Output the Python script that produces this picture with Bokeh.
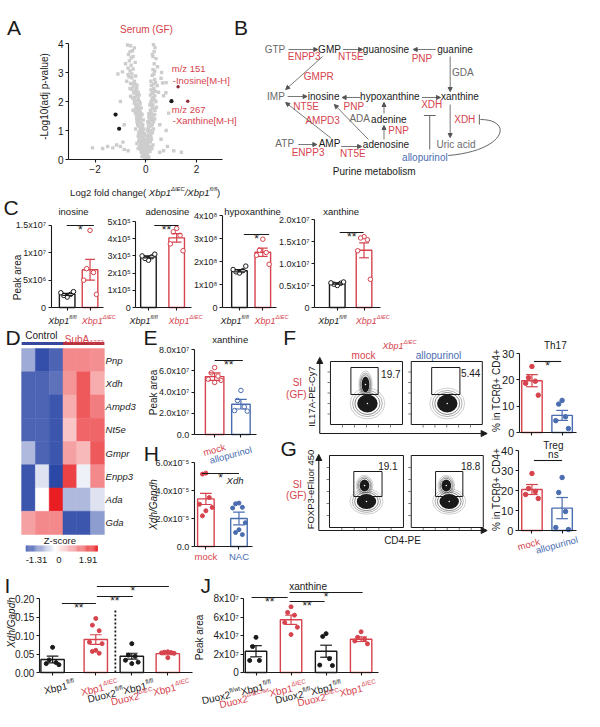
import math
from bokeh.plotting import figure
from bokeh.models import (Range1d, Label, Arrow, NormalHead, FixedTicker, LinearAxis,
                          ColumnDataSource)
from bokeh.embed import file_html
from bokeh.resources import INLINE
from bokeh.transform import linear_cmap

# ======================= DATA =======================
# A  volcano (serum, GF): log2 fold change and -log10(adj p)
VOLC_X = [-0.72, -0.60, -0.52, -0.68, -0.45, -0.58, 0.30, 0.36, 0.26, 0.40, 0.33,
          -0.80, -0.65, -0.50, -0.58, -0.42, -0.92, -0.70, 0.33, 0.28, 0.46, 0.62,
          -0.70, -0.55, -0.45, -0.60, -0.35, -0.50, -0.75, -1.10, -0.40, -0.62,
          0.25, 0.35, 0.30, 0.45, 0.60, 0.20, 0.80,
          -0.55, -0.40, -0.48, -0.35, -0.60, -0.30, -0.45, -0.25, -0.38, -0.52,
          0.20, 0.28, 0.35, 0.25, 0.50, 0.40, 0.70, 0.18, 0.32,
          -0.45, -0.35, -0.28, -0.40, -0.30, -0.20, -0.38, -0.25, -0.50, -0.33,
          0.20, 0.25, 0.18, 0.30, 0.22, 0.35, 0.15, 0.28, 0.42,
          -0.30, -0.22, -0.35, -0.18, -0.27, -0.15, -0.40, -0.20, -0.28, -0.12,
          0.12, 0.20, 0.15, 0.25, 0.10, 0.30, 0.18, 0.08, 0.35,
          -0.25, -0.15, -0.30, -0.10, -0.20, -0.08, -0.35, -0.15, -0.22, -0.05,
          0.10, 0.18, 0.08, 0.22, 0.12, 0.05, 0.28, 0.15,
          -0.10, 0.05, -0.05, 0.08, -0.12, 0.00, 0.10, -0.05, 0.02, -0.20, 0.15, -0.15, 0.12, -0.08, 0.05, -0.02,
          -2.10, -1.70, -1.50, -1.30, -1.15, -1.00, -0.85, -0.70, 0.55, 0.70, 0.85, 1.10, 1.40,
          -0.90, 0.80, 0.90, -1.00, 0.55, 0.66, 0.79, -0.85, 0.60,
          -0.42, -0.36, -0.30, -0.44, -0.26, -0.33, -0.22, -0.40, -0.18, -0.34, -0.24, -0.42, -0.15, -0.31,
          -0.20, -0.36, -0.10, -0.24, -0.14, -0.32, -0.08, -0.22, -0.12, -0.28, -0.06, -0.18, -0.25, -0.04,
          -0.12, -0.28, -0.02, -0.20, -0.10, -0.25, -0.06, -0.16, -0.30, -0.08, -0.18, -0.03, -0.10,
          0.22, 0.30, 0.24, 0.38, 0.30, 0.22, 0.34, 0.16, 0.26, 0.36, 0.20, 0.28, 0.12, 0.24, 0.16, 0.30,
          0.10, 0.20, 0.06, 0.14, 0.26, 0.05, 0.20, 0.12, 0.03, 0.18, 0.08, 0.20, 0.02, 0.12, 0.24, 0.06,
          0.16, 0.03, 0.07, -0.01,
          -0.62, -0.55, -0.48, -0.66, 0.35, 0.28, 0.32, -0.62, -0.50, 0.38]
VOLC_Y = [3.95, 3.92, 3.75, 3.62, 3.85, 3.50, 3.96, 3.86, 3.62, 3.48, 3.72,
          3.30, 3.40, 3.12, 3.25, 3.35, 3.02, 3.15, 3.30, 3.10, 3.20, 3.00,
          2.92, 2.82, 2.70, 2.62, 2.56, 2.50, 2.70, 2.95, 2.88, 2.45,
          2.90, 2.76, 2.60, 2.55, 2.80, 2.70, 2.65,
          2.42, 2.38, 2.30, 2.20, 2.18, 2.10, 2.05, 2.00, 2.28, 2.12,
          2.40, 2.30, 2.20, 2.10, 2.32, 2.00, 2.20, 2.22, 2.45,
          1.95, 1.90, 1.80, 1.75, 1.65, 1.60, 1.55, 1.50, 1.70, 1.85,
          1.95, 1.85, 1.70, 1.75, 1.60, 1.55, 1.50, 1.90, 1.80,
          1.45, 1.40, 1.30, 1.25, 1.15, 1.10, 1.05, 1.00, 1.35, 1.20,
          1.45, 1.35, 1.25, 1.20, 1.10, 1.05, 1.00, 1.30, 1.40,
          0.95, 0.90, 0.80, 0.75, 0.65, 0.60, 0.55, 0.50, 0.85, 0.85,
          0.95, 0.85, 0.75, 0.70, 0.60, 0.55, 0.50, 0.80,
          0.45, 0.40, 0.30, 0.25, 0.20, 0.15, 0.10, 0.05, 0.02, 0.35, 0.35, 0.10, 0.05, 0.12, 0.20, 0.38,
          0.40, 0.38, 0.45, 0.40, 0.50, 0.45, 0.35, 0.30, 0.25, 0.30, 0.45, 0.30, 0.25,
          0.60, 1.00, 1.60, 2.00, 1.20, 2.64, 2.30, 1.20, 0.70,
          2.60, 2.45, 2.32, 2.15, 2.22, 2.02, 1.92, 1.88, 1.78, 1.72, 1.68, 1.62, 1.55, 1.58,
          1.44, 1.42, 1.36, 1.30, 1.18, 1.20, 1.05, 1.08, 0.98, 0.92, 0.90, 0.78, 0.72, 0.70,
          0.68, 0.62, 0.58, 0.55, 0.52, 0.45, 0.42, 0.40, 0.38, 0.30, 0.25, 0.22, 0.18,
          2.55, 2.42, 2.28, 2.35, 2.15, 2.02, 2.05, 1.88, 1.78, 1.70, 1.62, 1.52, 1.58, 1.42, 1.38, 1.30,
          1.22, 1.15, 1.02, 0.98, 0.92, 0.82, 0.78, 0.70, 0.65, 0.62, 0.50, 0.45, 0.48, 0.42, 0.38, 0.32,
          0.28, 0.12, 0.08, 0.08,
          3.05, 2.95, 2.62, 2.85, 3.05, 3.55, 2.95, 3.72, 3.55, 2.65]
HIT_X = [-1.19, -1.05, 1.01]
HIT_Y = [1.55, 1.06, 2.01]
MZ_X = [1.27, 1.65]          # m/z 151 inosine, m/z 267 xanthine
MZ_Y = [2.51, 2.01]
MZ_TEXT = ["m/z 151", "-Inosine[M-H]", "m/z 267", "-Xanthine[M-H]"]

# C  peak areas (inosine x1e6, adenosine x1e5, hypoxanthine x1e8, xanthine x1e6)
C_METABOLITES = ["inosine", "adenosine", "hypoxanthine", "xanthine"]
C_MEAN_FL = [2.4, 2.95, 1.6, 5.45]
C_MEAN_KO = [6.9, 4.05, 2.4, 13.0]
C_SEM_FL = [0.2, 0.06, 0.05, 0.15]
C_SEM_KO = [1.9, 0.25, 0.18, 1.7]
C_PTS_FL = [[1.9, 2.2, 2.4, 2.7, 2.9], [2.75, 2.85, 2.95, 3.0, 3.1],
            [1.5, 1.55, 1.6, 1.65, 1.8], [5.0, 5.3, 5.5, 5.6, 5.8]]
C_PTS_KO = [[14.1, 7.1, 6.4, 5.0, 2.4], [4.6, 4.4, 4.2, 3.7, 3.3],
            [2.97, 2.49, 2.39, 2.27, 1.88], [16.1, 15.8, 15.4, 12.9, 6.4]]
C_YTICKS = [[0, 5, 10, 15], [0, 1, 2, 3, 4, 5], [0, 1, 2, 3, 4], [0, 5, 10, 15, 20]]
C_YTICKLABELS = [["0", "5x10⁶", "1x10⁷", "1.5x10⁷"],
                 ["0", "1x10⁵", "2x10⁵", "3x10⁵", "4x10⁵", "5x10⁵"],
                 ["0", "1x10⁸", "2x10⁸", "3x10⁸", "4x10⁸"],
                 ["0", "0.5x10⁷", "1.0x10⁷", "1.5x10⁷", "2.0x10⁷"]]
C_SIG = ["*", "**", "*", "**"]

# D  heatmap z-scores
HM_GENES = ["Pnp", "Xdh", "Ampd3", "Nt5e", "Gmpr", "Enpp3", "Ada", "Gda"]
HM_Z = [[-0.6, -1.25, -1.1, 1.0, 1.0, 0.95],
        [-1.1, -1.1, -1.0, 0.9, 1.4, 0.7],
        [-1.1, -1.1, -1.2, 0.7, 1.4, 1.1],
        [-1.1, -1.1, -1.2, 0.5, 1.3, 1.3],
        [-0.5, -1.1, -1.2, 0.8, 0.6, 1.4],
        [-1.2, -0.2, -1.3, 1.6, -0.1, 1.0],
        [-1.2, 0.0, 1.91, -0.5, -0.5, -0.2],
        [0.8, 1.0, 1.0, -1.2, -1.2, -0.7]]
HM_LOW, HM_HIGH = -1.31, 1.91
HM_TICKS = ["-1.31", "0", "1.91"]

# E  xanthine peak area (x1e6): mock, allopurinol
E_MEAN = [54.5, 28.5]
E_SEM = [3.5, 4.5]
E_PTS = [[63, 58, 55, 52, 51, 49], [41.5, 32, 26, 22.5, 22]]
# H  Xdh/Gapdh (x1e-6): mock, NAC
H_MEAN = [34, 20]
H_SEM = [4, 4.5]
H_PTS = [[52.4, 51.7, 35, 30.2, 27.9, 25.5, 21.9], [31, 30.5, 28, 27.5, 17, 12, 10, 8.5]]
# F  Th17 % in TCRb+ CD4+ ; G Treg %
F_GATES = ["19.7", "5.44"]
G_GATES = ["19.1", "18.8"]
TH17_MEAN = [19.7, 6.5]
TH17_SEM = [2.3, 1.9]
TH17_PTS = [[25.1, 20.8, 19.5, 18.7, 14.2], [12.2, 10.8, 6.0, 4.5, 1.5]]
TREG_MEAN = [20.5, 11.2]
TREG_SEM = [2.5, 5.3]
TREG_PTS = [[28.5, 21.0, 19.5, 18.0, 16.0], [26.5, 19.0, 9.5, 1.5, 0.5]]
# I  Xdh/Gapdh (x1e-2)
I_MEAN = [3.5, 8.9, 4.4, 5.1]
I_SEM = [0.9, 1.3, 0.8, 0.3]
I_PTS = [[6.8, 3.4, 2.7, 2.4, 2.1], [14.6, 12.8, 11.3, 8.2, 7.8, 6.0, 5.7, 5.2],
         [7.8, 4.7, 4.4, 3.3, 2.8, 2.4], [5.6, 5.5, 5.4, 5.3, 5.2, 4.0]]
# J  xanthine peak area (x1e6)
J_MEAN = [23, 57, 23, 36]
J_SEM = [6, 5, 6.5, 2.5]
J_PTS = [[38, 28, 13, 13], [71, 65, 62, 54, 49, 41], [42, 39, 15, 8, 7.5], [44, 38, 36, 34, 31]]

# ======================= STYLE / HELPERS =======================
FONT = "Liberation Sans"
RED = "#d6434d"
BLUE = "#4a6db0"
BLACK = "#1a1a1a"
GRAY = "#6a6a6a"

CW = dict(zip("abcdefghijklmnopqrstuvwxyz",
              [556, 556, 500, 556, 556, 278, 556, 556, 222, 222, 500, 222, 833, 556, 556, 556,
               556, 333, 500, 278, 556, 500, 722, 500, 500, 500]))
CW.update(zip("ABCDEFGHIJKLMNOPQRSTUVWXYZ",
              [667, 667, 722, 722, 667, 611, 778, 722, 278, 500, 667, 556, 833, 722, 778, 667,
               778, 722, 667, 611, 722, 667, 944, 667, 667, 611]))
CW.update({" ": 278, "/": 278, ".": 278, "-": 333, "Δ": 668, "(": 333, ")": 333, "+": 584,
           "[": 278, "]": 278, ":": 278, "*": 389})


def tw(s, size):
    return sum(CW.get(ch, 556) for ch in s) * size / 1000.0


# one canvas: frame = whole page area, reference coordinates x 0..600, y 8..719
FIG = figure(width=584, height=711, x_range=Range1d(0, 600), y_range=Range1d(719, 8),
             x_axis_type=None, y_axis_type=None, output_backend="svg", toolbar_location=None,
             min_border=0, min_border_left=0, min_border_right=0, min_border_top=0,
             min_border_bottom=0, title=None)
FIG.outline_line_color = None
FIG.background_fill_color = "white"
FIG.border_fill_color = "white"
XR, YR = {}, {}


class Panel:
    count = 0

    def __init__(self, xo=0.0, xu=1.0, yo=0.0, yu=-1.0):
        Panel.count += 1
        self.n = "p%d" % Panel.count
        self.xo, self.xu, self.yo, self.yu = xo, xu, yo, yu
        XR[self.n] = Range1d(self.X(0), self.X(600))
        YR[self.n] = Range1d(self.Y(719), self.Y(8))
        self.kw = dict(x_range_name=self.n, y_range_name=self.n)

    def X(self, rx):
        return (rx - self.xo) / self.xu

    def Y(self, ry):
        return (self.yo - ry) / self.yu

    def R(self, x):
        return self.xo + x * self.xu

    def text(self, rx, ry, s, size=10, color=BLACK, align="center", baseline="middle",
             angle=0.0, italic=False):
        FIG.add_layout(Label(x=self.X(rx), y=self.Y(ry), text=s, text_font=FONT,
                             text_font_size="%.1fpx" % size, text_color=color,
                             text_align=align, text_baseline=baseline,
                             angle=math.radians(angle),
                             text_font_style="italic" if italic else "normal", **self.kw))

    def rich(self, rx, ry, runs, size=9, angle=0.0, align="center"):
        th = math.radians(angle)
        ux, uy = math.cos(th), math.sin(th)
        nx, ny = -math.sin(th), math.cos(th)

        def fsz(k):
            return size * (0.62 if k in ("s", "b") else 1.0)
        total = sum(tw(t, fsz(k)) for t, k, c, it in runs)
        d = {"left": 0.0, "center": -total / 2.0, "right": -total}[align]
        for t, k, c, it in runs:
            r = -0.35 * size + (0.42 * size if k == "s" else (-0.2 * size if k == "b" else 0.0))
            FIG.add_layout(Label(x=self.X(rx), y=self.Y(ry), x_offset=d * ux + r * nx,
                                 y_offset=d * uy + r * ny, text=t, angle=th, text_font=FONT,
                                 text_font_size="%.1fpx" % fsz(k), text_color=c,
                                 text_font_style="italic" if it else "normal",
                                 text_align="left", text_baseline="alphabetic", **self.kw))
            d += tw(t, fsz(k))

    def axes(self, yt, ylab, yb, xt, xb, ax_rx, fs=9, xlab=False):
        ya = LinearAxis(ticker=FixedTicker(ticks=yt), bounds=yb, fixed_location=self.X(ax_rx),
                        **self.kw)
        if ylab is not None:
            ov = {}
            for t, s in zip(yt, ylab):
                ov[t] = s
            ya.major_label_overrides = ov
        xa = LinearAxis(ticker=FixedTicker(ticks=xt), bounds=xb, fixed_location=0, **self.kw)
        if not xlab:
            xa.major_label_overrides = {t: "" for t in xt}
        for a in (ya, xa):
            a.axis_line_color = BLACK
            a.axis_line_width = 1.1
            a.major_tick_line_color = BLACK
            a.major_tick_line_width = 1.1
            a.major_tick_out = 3
            a.major_tick_in = 0
            a.minor_tick_out = 0
            a.minor_tick_in = 0
            a.major_label_standoff = 2
            a.major_label_text_font = FONT
            a.major_label_text_font_size = "%dpx" % fs
            a.major_label_text_color = BLACK
        FIG.add_layout(ya, "left")
        FIG.add_layout(xa, "below")

    def seg(self, x0, y0, x1, y1, **kw):
        FIG.segment(x0=x0, y0=y0, x1=x1, y1=y1, **self.kw, **kw)

    def sig(self, rx0, rx1, ry, stars, size=12):
        self.seg([self.X(rx0)], [self.Y(ry)], [self.X(rx1)], [self.Y(ry)],
                 line_color=BLACK, line_width=1.1)
        self.text((rx0 + rx1) / 2.0, ry + 4.5, stars, size=size, baseline="alphabetic")

    def arrow(self, x0, y0, x1, y1, color, width, head):
        FIG.add_layout(Arrow(end=NormalHead(size=head, line_color=color, fill_color=color),
                             x_start=x0, y_start=y0, x_end=x1, y_end=y1,
                             line_color=color, line_width=width, **self.kw))


JIT = [0, -3.5, 3.5, -6.5, 6.5, 0, -3.5, 3.5]


def bars(P, xs, means, sems, pts, colors, bw_px, cap_px=5, open_pts=True, psize=4.5):
    FIG.vbar(x=xs, top=means, bottom=0, width=bw_px / P.xu, fill_color="white",
             line_color=colors, line_width=1.4, **P.kw)
    for x, vals, c in zip(xs, pts, colors):
        xx = [x + JIT[i % len(JIT)] / P.xu for i in range(len(vals))]
        FIG.scatter(xx, vals, size=psize, marker="circle", line_color=c,
                    fill_color="white" if open_pts else c, line_width=1.0, **P.kw)
    cap = cap_px / P.xu
    for x, m, s, c in zip(xs, means, sems, colors):
        P.seg([x, x - cap, x - cap], [m - s, m + s, m - s], [x, x + cap, x + cap],
              [m + s, m + s, m - s], line_color=c, line_width=1.2)


REF = Panel()


def ylab(rx, ry, s, size=10, italic=False):
    REF.text(rx, ry, s, size=size, angle=90, italic=italic)


def letter(rx, ry, s):
    REF.text(rx, ry, s, size=21)


# ======================= A : volcano =======================
A = Panel(xo=149.3, xu=26.1, yo=167, yu=29.0)
A.axes([0, 1, 2, 3, 4], None, (0, 4), [-2, 0, 2], (A.X(70), A.X(228)), 70, fs=10, xlab=True)
FIG.scatter(VOLC_X, VOLC_Y, size=3.4, marker="square", fill_color="#cdcdcd", line_color=None, **A.kw)
FIG.scatter(HIT_X, HIT_Y, size=4.2, marker="circle", fill_color=BLACK, line_color=None, **A.kw)
FIG.scatter(MZ_X, MZ_Y, size=3.4, marker="circle", fill_color="#8e2a36", line_color=None, **A.kw)
letter(14, 35, "A")
REF.text(150, 37, "Serum (GF)", size=10, color=RED)
for s, (rx, ry) in zip(MZ_TEXT, [(176, 76), (177, 88), (176, 117), (177, 128)]):
    REF.text(rx, ry, s, size=9.5, color=RED, align="left")
ylab(45, 104, "-Log10(adj p-value)", size=10)
REF.rich(150, 197, [("Log2 fold change( ", "n", BLACK, False), ("Xbp1", "n", BLACK, True),
                    ("ΔIEC", "s", BLACK, True), ("/Xbp1", "n", BLACK, True),
                    ("fl/fl", "s", BLACK, True), (" )", "n", BLACK, False)], size=9.5)

# ======================= B : pathway =======================
letter(247, 35, "B")
B_NODES = [("GTP", 282, 57, GRAY), ("GMP", 338, 57, BLACK), ("guanosine", 396, 57, BLACK),
           ("guanine", 467, 57, BLACK), ("IMP", 283, 104, GRAY), ("inosine", 332, 104, BLACK),
           ("hypoxanthine", 400, 104, BLACK), ("xanthine", 472, 104, BLACK),
           ("adenine", 399, 127, BLACK), ("ATP", 292, 151, GRAY), ("AMP", 338, 151, BLACK),
           ("adenosine", 396, 152, BLACK), ("Uric acid", 468, 152, GRAY),
           ("ENPP3", 312, 64, RED), ("NT5E", 360, 64, RED), ("PNP", 433, 66, RED),
           ("GDA", 475, 80, GRAY), ("GMPR", 327, 84, RED), ("NT5E", 314, 114, RED),
           ("PNP", 363, 114, RED), ("XDH", 443, 112, RED), ("ADA", 369, 126, GRAY),
           ("AMPD3", 331, 128, RED), ("XDH", 477, 127, RED), ("PNP", 409, 138, RED),
           ("ENPP3", 316, 160, RED), ("NT5E", 362, 161, RED), ("allopurinol", 436, 165, BLUE),
           ("Purine metabolism", 384, 179, BLACK)]
for s, rx, ry, c in B_NODES:
    REF.text(rx, ry, s, size=10, color=c)
ARW = "#555555"
B_ARROWS = [(296, 57, 326, 57), (352, 57, 372, 57), (447, 57, 424, 57), (462, 64, 462, 99),
            (331, 64, 293, 97), (295, 104, 315, 104), (370, 105, 351, 105), (433, 105, 452, 105),
            (394, 121, 394, 110), (394, 147, 394, 133), (340, 146, 293, 110), (378, 147, 343, 112),
            (306, 152, 325, 152), (350, 154, 371, 154), (462, 112, 462, 145)]
for x0, y0, x1, y1 in B_ARROWS:
    REF.arrow(x0, y0, x1, y1, ARW, 0.8, 4)
REF.seg([441, 435, 492], [157, 123, 122], [441, 447, 492], [123, 123, 132],
        line_color=ARW, line_width=0.9)
FIG.bezier(x0=[460], y0=[163], x1=[493], y1=[127], cx0=[520], cy0=[158], cx1=[527], cy1=[127],
           line_color=ARW, line_width=0.9, **REF.kw)

# ======================= C : four bar charts =======================
C_GEOM = [(52, 106, 68.5, 23.5, 5.47), (139, 196, 152, 29, 17.2),
          (228, 284, 245.5, 24, 23.0), (322.5, 390, 346, 27.5, 4.4)]
C_TITLE_X = [75, 171.5, 259, 350]
C_SIG_POS = [(68, 96, 233), (158, 183, 233), (250, 276, 242), (348.5, 373, 240)]
for k in range(4):
    ax, xend, xo, xu, yu = C_GEOM[k]
    P = Panel(xo=xo, xu=xu, yo=315, yu=yu)
    P.axes(C_YTICKS[k], C_YTICKLABELS[k], (0, C_YTICKS[k][-1]), [0, 1],
           (P.X(ax), P.X(xend)), ax, fs=9)
    bars(P, [0, 1], [C_MEAN_FL[k], C_MEAN_KO[k]], [C_SEM_FL[k], C_SEM_KO[k]],
         [C_PTS_FL[k], C_PTS_KO[k]], [BLACK, RED], 16, cap_px=5, open_pts=True)
    REF.text(C_TITLE_X[k], 219, C_METABOLITES[k], size=9.5)
    a, b, y = C_SIG_POS[k]
    REF.sig(a, b, y, C_SIG[k])
    REF.rich(P.R(0) - 5, 325, [("Xbp1", "n", BLACK, True), ("fl/fl", "s", BLACK, True)], size=9)
    REF.rich(P.R(1) + 9, 325, [("Xbp1", "n", RED, True), ("ΔIEC", "s", RED, True)], size=9)
letter(11, 215, "C")
ylab(17, 285, "Peak area", size=10)

# ======================= D : heatmap =======================
D = Panel(xo=21.7, xu=14.17, yo=356, yu=-23.25)


def hm_palette(n=256):
    out = []
    blue_end, red_end = (44, 72, 166), (232, 30, 34)
    for i in range(n):
        v = HM_LOW + (HM_HIGH - HM_LOW) * i / (n - 1)
        if v < 0:
            t, e = v / HM_LOW, blue_end
        else:
            t, e = v / HM_HIGH, red_end
        out.append("#%02x%02x%02x" % tuple(int(round(255 + t * (c - 255))) for c in e))
    return out


PAL = hm_palette()
hx, hy, hz = [], [], []
for i, g in enumerate(HM_GENES):
    for j, z in enumerate(HM_Z[i]):
        hx.append(j + 0.5)
        hy.append(i + 0.5)
        hz.append(z)
cmap = linear_cmap("z", PAL, HM_LOW, HM_HIGH)
FIG.rect(x="x", y="y", width=1, height=1, source=ColumnDataSource(dict(x=hx, y=hy, z=hz)),
         fill_color=cmap, line_color=cmap, line_width=0.5, **D.kw)
for i, g in enumerate(HM_GENES):
    D.text(108, 356 + 23.25 * (i + 0.5), g, size=9.5, align="left", italic=True)
D.seg([0, 3], [D.Y(351)] * 2, [3, 6], [D.Y(351)] * 2,
      line_color=["#38479e", "#b5313d"], line_width=3)
letter(13, 345, "D")
REF.text(42, 343, "Control", size=10)
REF.rich(86, 343, [("SubA", "n", RED, False), ("A272", "b", RED, False)], size=10)
NCB = 80
cb_vals = [HM_LOW + (HM_HIGH - HM_LOW) * (k + 0.5) / NCB for k in range(NCB)]
cb_x = [D.X(26 + 74.0 * (k + 0.5) / NCB) for k in range(NCB)]
FIG.rect(x="x", y="y", width=74.0 / NCB / D.xu * 1.05, height=6 / 23.25,
         source=ColumnDataSource(dict(x=cb_x, y=[D.Y(556)] * NCB, z=cb_vals)),
         fill_color=cmap, line_color=None, **D.kw)
REF.text(61, 548, "Z-score", size=9.5)
for s, rx in zip(HM_TICKS, [37, 60, 90]):
    REF.text(rx, 567, s, size=9.5)

# ======================= E / H =======================
E = Panel(xo=220, xu=27, yo=442, yu=1.0625)
E.axes([0, 20, 40, 60, 80], ["0.0", "2.0x10⁷", "4.0x10⁷", "6.0x10⁷", "8.0x10⁷"], (0, 80),
       [0, 1], (E.X(199), E.X(263)), 199, fs=9)
bars(E, [0, 1], E_MEAN, E_SEM, E_PTS, [RED, BLUE], 19, cap_px=6, open_pts=True)
letter(154, 345, "E")
REF.text(236, 347, "xanthine", size=9.5)
REF.sig(220, 249, 368, "**")
ylab(157, 400, "Peak area", size=10)
REF.rich(E.R(0) + 10, 451, [("mock", "n", RED, False)], size=9.5, angle=15, align="right")
REF.rich(E.R(1) + 10, 453.5, [("allopurinol", "n", BLUE, False)], size=9.5, angle=15, align="right")

H = Panel(xo=211, xu=34, yo=554, yu=1.4)
H.axes([0, 20, 40, 60], ["0.0", "2.0x10⁻⁵", "4.0x10⁻⁵", "6.0x10⁻⁵"], (0, 60),
       [0, 1], (H.X(199), H.X(259)), 199, fs=9)
bars(H, [0, 1], H_MEAN, H_SEM, H_PTS, [RED, BLUE], 17, cap_px=6, open_pts=False, psize=4)
letter(155, 461, "H")
REF.sig(207, 245, 481, "*")
REF.text(241, 488, "Xdh", size=9.5, italic=True)
ylab(157, 512, "Xdh/Gapdh", size=10, italic=True)
REF.text(211, 564, "mock", size=9.5, color=RED)
REF.text(245, 564, "NAC", size=9.5, color=BLUE)


# ======================= F / G flow =======================
def flow(boxes, gates, nums, blobs, ax_x, ax_y0, ax_y1, ax_x1):
    FIG.quad(left=[b[0] for b in boxes], right=[b[2] for b in boxes],
             top=[b[1] for b in boxes], bottom=[b[3] for b in boxes],
             fill_color=None, line_color=BLACK, line_width=1, **REF.kw)
    tx0, ty0, tx1, ty1 = [], [], [], []
    for b in boxes:
        w, h = b[2] - b[0], b[3] - b[1]
        for k in range(1, 6):
            yy = b[1] + h * k / 6.0
            tx0 += [b[0] - 3]; ty0 += [yy]; tx1 += [b[0]]; ty1 += [yy]
            xx = b[0] + w * k / 6.0
            tx0 += [xx]; ty0 += [b[3]]; tx1 += [xx]; ty1 += [b[3] + 3]
    REF.seg(tx0, ty0, tx1, ty1, line_color="#444444", line_width=0.7)
    FIG.quad(left=[g[0] for g in gates], right=[g[2] for g in gates],
             top=[g[1] for g in gates], bottom=[g[3] for g in gates],
             fill_color=None, line_color=BLACK, line_width=1, **REF.kw)
    for cx, cy, rx, ry in blobs:
        for f, a in ((1.7, 0.3), (1.45, 0.5), (1.22, 0.75)):
            FIG.ellipse(x=[cx], y=[cy], width=[2 * rx * f], height=[2 * ry * f],
                        fill_color=None, line_color=BLACK, line_alpha=a, line_width=0.7, **REF.kw)
        FIG.ellipse(x=[cx], y=[cy], width=[2 * rx], height=[2 * ry], fill_color=BLACK,
                    line_color=None, **REF.kw)
        FIG.ellipse(x=[cx], y=[cy], width=[1.6], height=[1.6], fill_color="white",
                    line_color=None, **REF.kw)
    for s, rx, ry in nums:
        REF.text(rx, ry, s, size=10)
    REF.arrow(ax_x, ax_y0, ax_x, ax_y1, BLACK, 1.1, 6)
    REF.arrow(ax_x, ax_y0, ax_x1, ax_y0, BLACK, 1.1, 6)


flow([(339, 369, 413, 432), (422, 369, 495, 432)],
     [(360, 375, 388, 402), (443, 375, 472, 402)],
     [(F_GATES[0], 401, 381), (F_GATES[1], 483, 380)],
     [(375, 392, 4, 8), (377, 411, 10.5, 9), (459, 411, 10.5, 9)],
     328, 441, 365, 500)
letter(297, 345, "F")
REF.rich(410, 350, [("Xbp1", "n", RED, True), ("ΔIEC", "s", RED, True)], size=9)
REF.text(373, 363, "mock", size=10, color=RED)
REF.text(450, 363, "allopurinol", size=10, color=BLUE)
REF.text(305, 390, "SI", size=10, color=RED)
REF.text(304, 402, "(GF)", size=10, color=RED)
ylab(320, 404, "IL17A-PE-Cy7", size=9.5)

flow([(338, 463, 414, 535), (422, 463, 496, 535)],
     [(363, 479, 392, 504), (447, 479, 475, 504)],
     [(G_GATES[0], 398, 473), (G_GATES[1], 483, 473)],
     [(374, 493, 5, 6), (376, 509, 10, 7.5), (458, 493, 5, 6), (461, 509, 10, 7.5)],
     327, 538, 462, 500)
letter(296, 456, "G")
REF.text(305, 492, "SI", size=10, color=RED)
REF.text(304, 503, "(GF)", size=10, color=RED)
ylab(318, 497, "FOXP3-eFluor 450", size=9.5)
REF.text(413, 548, "CD4-PE", size=10)

Fb = Panel(xo=546, xu=31, yo=440, yu=2.63)
Fb.axes([0, 10, 20, 30], None, (0, 30), [0, 1], (Fb.X(533), Fb.X(592)), 533, fs=11)
bars(Fb, [0, 1], TH17_MEAN, TH17_SEM, TH17_PTS, [RED, BLUE], 21, cap_px=6, open_pts=False)
REF.text(570, 353, "Th17", size=10)
REF.sig(548, 576, 369, "*")
ylab(510, 398, "% in TCRβ+ CD4+", size=10)

Gb = Panel(xo=546, xu=31, yo=538, yu=2.0)
Gb.axes([0, 10, 20, 30, 40], None, (0, 40), [0, 1], (Gb.X(532), Gb.X(592)), 532, fs=11)
bars(Gb, [0, 1], TREG_MEAN, TREG_SEM, TREG_PTS, [RED, BLUE], 21, cap_px=6, open_pts=False)
REF.text(568, 453, "Treg", size=10)
REF.text(568, 462, "ns", size=10)
REF.seg([548], [468], [577], [468], line_color=BLACK, line_width=1.1)
ylab(510, 497, "% in TCRβ+ CD4+", size=10)
REF.rich(Gb.R(0) + 7, 545.5, [("mock", "n", RED, False)], size=9.5, angle=15, align="right")
REF.rich(Gb.R(1) + 15, 543.5, [("allopurinol", "n", BLUE, False)], size=9.5, angle=15,
         align="right")

# ======================= I / J =======================
I = Panel(xo=53.5, xu=37, yo=680, yu=3.7)
I_X = [0, 1.2, 2.2, 3.2]
I.axes([0, 5, 10, 15, 20], ["0.00", "0.05", "0.10", "0.15", "0.20"], (0, 20), I_X,
       (I.X(40), I.X(197)), 40, fs=10)
bars(I, I_X, I_MEAN, I_SEM, I_PTS, [BLACK, RED, BLACK, RED], 24, cap_px=6, open_pts=False, psize=4)
REF.seg([118], [680], [118], [616], line_color=BLACK, line_width=1.8, line_dash="2 2")
REF.sig(63, 98, 611, "**")
REF.sig(99, 136, 604, "**")
REF.sig(99, 173, 594, "*")
letter(7, 593, "I")
ylab(11, 630, "Xdh/Gapdh", size=10, italic=True)
I_LAB = [[("Xbp1", "n", BLACK, False), ("fl/fl", "s", BLACK, False)],
         [("Xbp1", "n", RED, False), ("ΔIEC", "s", RED, False)],
         [("Duox2", "n", BLACK, False), ("fl/fl", "s", BLACK, False),
          ("Xbp1", "n", BLACK, False), ("fl/fl", "s", BLACK, False)],
         [("Duox2", "n", RED, False), ("ΔIEC", "s", RED, False),
          ("Xbp1", "n", RED, False), ("ΔIEC", "s", RED, False)]]
for x, runs in zip(I_X, I_LAB):
    REF.rich(I.R(x) + 22, 688, runs, size=10, angle=13, align="right")

J = Panel(xo=262.5, xu=36, yo=680, yu=0.925)
J_X = [0, 1, 2, 3]
J.axes([0, 20, 40, 60, 80], ["0", "2x10⁷", "4x10⁷", "6x10⁷", "8x10⁷"], (0, 80), J_X,
       (J.X(250), J.X(388)), 250, fs=10)
bars(J, J_X, J_MEAN, J_SEM, J_PTS, [BLACK, RED, BLACK, RED], 22, cap_px=6, open_pts=False, psize=4)
REF.text(316, 594, "xanthine", size=10)
REF.sig(258, 295, 605, "**")
REF.sig(297, 333, 609, "**")
REF.sig(297, 372, 600, "*")
letter(211, 593, "J")
ylab(204, 645, "Peak area", size=10)
J_LAB = [[("Duox2", "n", BLACK, False), ("fl/wt", "s", BLACK, False),
          ("Xbp1", "n", BLACK, False), ("fl/fl", "s", BLACK, False)],
         [("Duox2", "n", RED, False), ("ΔIEC/wt", "s", RED, False),
          ("Xbp1", "n", RED, False), ("ΔIEC", "s", RED, False)],
         [("Duox2", "n", BLACK, False), ("fl/fl", "s", BLACK, False),
          ("Xbp1", "n", BLACK, False), ("fl/fl", "s", BLACK, False)],
         [("Duox2", "n", RED, False), ("ΔIEC", "s", RED, False),
          ("Xbp1", "n", RED, False), ("ΔIEC", "s", RED, False)]]
for x, runs in zip(J_X, J_LAB):
    REF.rich(J.R(x) + 15, 689, runs, size=10, angle=13, align="right")

FIG.extra_x_ranges = XR
FIG.extra_y_ranges = YR

open("out.html", "w").write(file_html(FIG, INLINE, title="Purine metabolism figure"))
